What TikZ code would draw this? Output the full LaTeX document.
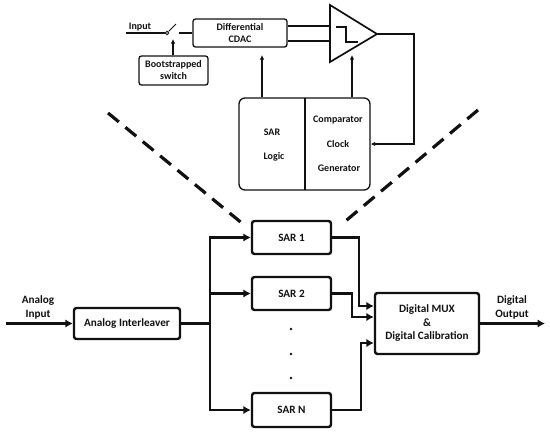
\documentclass[tikz,border=0pt]{standalone}
\usepackage{fontspec}
\setmainfont{Carlito}
\usetikzlibrary{arrows.meta,calc}
\definecolor{ink}{HTML}{111111}
\tikzset{
  big/.style={draw=ink,line width=2.4pt,rounded corners=2.5pt,inner sep=0pt,align=center,font=\fontsize{11.2}{13.5}\selectfont\bfseries,text=ink},
  small/.style={draw=ink,line width=1.3pt,rounded corners=2.5pt,inner sep=0pt,align=center,font=\fontsize{10}{12}\selectfont\bfseries,text=ink},
  lab/.style={inner sep=0pt,align=center,font=\fontsize{11.2}{14}\selectfont\bfseries,text=ink},
  slab/.style={inner sep=0pt,align=center,font=\fontsize{10}{12}\selectfont\bfseries,text=ink},
  bigline/.style={draw=ink,line width=2.4pt},
  bigarrow/.style={draw=ink,line width=2.4pt,-{Latex[length=7.5pt,width=8.5pt]}},
  smallline/.style={draw=ink,line width=1.3pt},
  smallarrow/.style={draw=ink,line width=1.3pt,-{Latex[length=4.5pt,width=4.5pt]}},
  zoomdash/.style={draw=ink,line width=3.2pt,dash pattern=on 14pt off 8.5pt},
}
\begin{document}
\begin{tikzpicture}[x=1pt,y=-1pt]
\useasboundingbox (0,0) rectangle (550,432);
% upper detail
\node[small,minimum width=94pt,minimum height=28pt] (cdac) at (240,33) {Differential\\CDAC};
\node[small,minimum width=69pt,minimum height=29pt] (boot) at (173.5,70.5) {Bootstrapped\\switch};
\coordinate (ta) at (330,5);
\coordinate (tb) at (330,62);
\coordinate (tc) at (377,34);
\draw[draw=ink,line width=1.7pt,line join=miter] (ta) -- (tb) -- (tc) -- cycle;
\draw[draw=ink,line width=1.4pt] (336,27) -- (346,27) -- (346,42) -- (358,42);
\node[draw=ink,line width=1.3pt,rounded corners=6pt,minimum width=131pt,minimum height=92pt,inner sep=0pt] (logic) at (304.5,144) {};
\coordinate (divt) at (305,98);
\coordinate (divb) at (305,190);
\draw[smallline] (divt) -- (divb);
\node[slab] (sarl) at (272,132) {SAR};
\node[slab] (logl) at (274,157) {Logic};
\node[slab] (cmpl) at (338,120) {Comparator};
\node[slab] (clkl) at (338,144) {Clock};
\node[slab] (genl) at (339,168) {Generator};
\node[slab] (inl) at (140,27) {Input};
\coordinate (instart) at (126,33);
\node[circle,draw=ink,line width=0.9pt,fill=white,minimum size=3.5pt,inner sep=0pt] (sw) at (167,33) {};
\coordinate (swtip) at (176,24);
\coordinate (swout) at (179,33);
\draw[smallline] (instart) -- (sw.west);
\draw[draw=ink,line width=1pt] (sw.north east) -- (swtip);
\draw[smallline] (swout) -- (cdac.west |- swout);
\coordinate (swctl) at (173,39);
\draw[smallarrow] (boot.north -| swctl) -- (swctl);
\coordinate (c1) at (330,26);
\coordinate (c2) at (330,41);
\draw[smallline] (cdac.east |- c1) -- (c1);
\draw[smallline] (cdac.east |- c2) -- (c2);
\coordinate (u1) at (262,55);
\coordinate (u2) at (352,55);
\draw[smallarrow] (logic.north -| u1) -- (u1);
\draw[smallarrow] (logic.north -| u2) -- (u2);
\coordinate (fb1) at (414,34);
\coordinate (fb2) at (414,144);
\draw[smallarrow] (tc) -- (fb1) -- (fb2) -- (logic.east |- fb2);
% zoom lines
\coordinate (zl1) at (108,113);
\coordinate (zl2) at (243,224);
\coordinate (zr1) at (478,110);
\coordinate (zr2) at (342,224);
\draw[zoomdash] (zl1) -- (zl2);
\draw[zoomdash] (zr1) -- (zr2);
% lower chain
\node[big,minimum width=106pt,minimum height=31pt] (inter) at (127,323.5) {Analog Interleaver};
\node[big,minimum width=79pt,minimum height=33pt] (sar1) at (291.5,237.5) {SAR 1};
\node[big,minimum width=79pt,minimum height=33pt] (sar2) at (291.5,293.5) {SAR 2};
\node[big,minimum width=79pt,minimum height=34pt] (sarn) at (291.5,410) {SAR N};
\node[big,minimum width=104pt,minimum height=61pt] (mux) at (427,323.5) {Digital MUX\\\&\\Digital Calibration};
\node[lab] (ain) at (38,307) {Analog\\Input};
\node[lab] (dout) at (512,307) {Digital\\Output};
\coordinate (instartb) at (6,323.5);
\coordinate (outend) at (545,323.5);
\draw[bigarrow] (instartb) -- (inter.west);
\draw[bigarrow] (mux.east) -- (outend);
\coordinate (bus) at (210,323.5);
\draw[bigline] (inter.east) -- (bus);
\draw[bigarrow] (bus) |- (sar1.west);
\draw[bigarrow] (bus) |- (sar2.west);
\draw[bigarrow] (bus) |- (sarn.west);
\coordinate (m1) at (359,306);
\coordinate (m2) at (352,317);
\coordinate (m3) at (361,343);
\draw[bigarrow] (sar1.east) -| (m1) -- (mux.west |- m1);
\draw[bigarrow] (sar2.east) -| (m2) -- (mux.west |- m2);
\draw[bigarrow] (sarn.east) -| (m3) -- (mux.west |- m3);
\node[circle,fill=ink,minimum size=2.8pt,inner sep=0pt] (d1) at (291,329) {};
\node[circle,fill=ink,minimum size=2.8pt,inner sep=0pt] (d2) at (291,354) {};
\node[circle,fill=ink,minimum size=2.8pt,inner sep=0pt] (d3) at (291,378) {};
\end{tikzpicture}
\end{document}
